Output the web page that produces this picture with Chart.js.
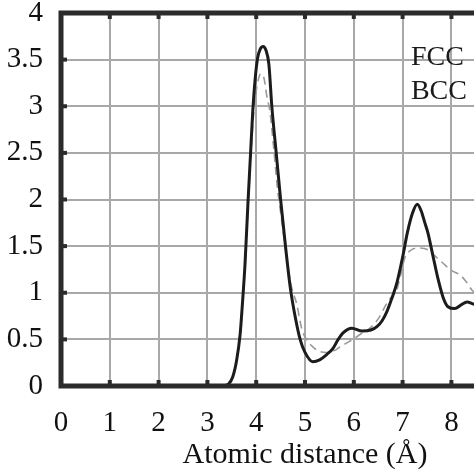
<!DOCTYPE html>
<html>
<head>
<meta charset="utf-8">
<script src="https://cdn.jsdelivr.net/npm/chart.js@4.4.1/dist/chart.umd.min.js"></script>
<style>
  html, body { margin: 0; padding: 0; background: #fff; overflow: hidden; }
  #wrap { width: 580px; height: 474px; }
</style>
</head>
<body>
<div id="wrap"><canvas id="rdfChart"></canvas></div>
<script>
// --- Data ---
const fccX = [3.3, 3.43, 3.52, 3.6, 3.67, 3.72, 3.77, 3.83, 3.88, 3.93, 3.98, 4.03, 4.08, 4.14, 4.2, 4.26, 4.32, 4.41, 4.5, 4.6, 4.7, 4.8, 4.9, 5.0, 5.16, 5.3, 5.45, 5.57, 5.68, 5.78, 5.96, 6.17, 6.35, 6.48, 6.58, 6.68, 6.78, 6.88, 7.0, 7.1, 7.2, 7.3, 7.38, 7.45, 7.52, 7.62, 7.73, 7.83, 7.93, 8.07, 8.2, 8.32, 8.44, 8.6, 8.8];
const fccY = [0, 0.02, 0.1, 0.28, 0.55, 0.9, 1.3, 1.95, 2.45, 2.95, 3.3, 3.52, 3.61, 3.64, 3.6, 3.45, 3.0, 2.5, 2.0, 1.5, 1.05, 0.74, 0.5, 0.36, 0.26, 0.28, 0.34, 0.4, 0.5, 0.57, 0.62, 0.59, 0.6, 0.64, 0.7, 0.8, 0.94, 1.1, 1.38, 1.65, 1.85, 1.95, 1.88, 1.76, 1.64, 1.4, 1.14, 0.95, 0.85, 0.83, 0.87, 0.9, 0.88, 0.85, 0.82];

const bccX = [3.3, 3.43, 3.52, 3.6, 3.67, 3.72, 3.77, 3.83, 3.88, 3.93, 3.98, 4.04, 4.1, 4.16, 4.22, 4.28, 4.35, 4.44, 4.53, 4.63, 4.73, 4.83, 4.93, 5.03, 5.16, 5.3, 5.45, 5.6, 5.72, 5.85, 5.98, 6.15, 6.33, 6.5, 6.68, 6.78, 6.88, 6.95, 7.05, 7.15, 7.3, 7.52, 7.65, 7.8, 8.0, 8.18, 8.3, 8.42, 8.6, 8.8];
const bccY = [0, 0.02, 0.1, 0.28, 0.55, 0.9, 1.28, 1.9, 2.38, 2.8, 3.08, 3.28, 3.35, 3.3, 3.1, 2.95, 2.6, 2.1, 1.75, 1.35, 1.05, 0.88, 0.62, 0.5, 0.42, 0.37, 0.36, 0.38, 0.42, 0.46, 0.5, 0.56, 0.62, 0.72, 0.89, 0.96, 1.03, 1.17, 1.38, 1.45, 1.48, 1.46, 1.4, 1.33, 1.24, 1.19, 1.12, 1.03, 0.95, 0.9];

const seriesNames = ['FCC', 'BCC'];
const xTicks = [0, 1, 2, 3, 4, 5, 6, 7, 8, 9, 10];
const yTicks = [0, 0.5, 1, 1.5, 2, 2.5, 3, 3.5, 4];

const serif = '"Liberation Serif", "DejaVu Serif", serif';
const toPoints = (xs, ys) => xs.map((x, i) => ({ x: x, y: ys[i] }));

// --- Frame, tick nubs + legend drawn on top of the chart area ---
const framePlugin = {
  id: 'frame',
  afterDraw(chart) {
    const { ctx, chartArea: a } = chart;
    ctx.save();
    ctx.strokeStyle = '#2b2b2b';
    ctx.lineWidth = 5;
    ctx.strokeRect(a.left, a.top, a.right - a.left, a.bottom - a.top);

    // small dark nubs where grid lines meet the frame
    ctx.fillStyle = '#2b2b2b';
    chart.scales.x.ticks.forEach(t => {
      const px = chart.scales.x.getPixelForValue(t.value);
      ctx.fillRect(px - 2, a.top, 4, 6);
      ctx.fillRect(px - 2, a.bottom - 6, 4, 6);
    });
    chart.scales.y.ticks.forEach(t => {
      const py = chart.scales.y.getPixelForValue(t.value);
      ctx.fillRect(a.left, py - 2, 6, 4);
    });

    // legend: text first, line sample to its right (falls outside the crop)
    ctx.font = '28px ' + serif;
    ctx.fillStyle = '#1a1a1a';
    ctx.textBaseline = 'alphabetic';
    const tx = chart.scales.x.getPixelForValue(7.17);
    const rows = [a.top + 52, a.top + 86];
    chart.data.datasets.forEach((ds, i) => {
      ctx.fillText(ds.label, tx, rows[i]);
      const w = ctx.measureText(ds.label).width;
      ctx.beginPath();
      ctx.strokeStyle = ds.borderColor;
      ctx.lineWidth = ds.borderWidth;
      ctx.setLineDash(ds.borderDash || []);
      ctx.moveTo(tx + w + 16, rows[i] - 9);
      ctx.lineTo(tx + w + 66, rows[i] - 9);
      ctx.stroke();
      ctx.setLineDash([]);
    });
    ctx.restore();
  }
};

new Chart(document.getElementById('rdfChart'), {
  type: 'scatter',
  data: {
    datasets: [{
      label: seriesNames[0],
      data: toPoints(fccX, fccY),
      showLine: true,
      borderColor: '#1c1c1c',
      borderWidth: 3,
      pointRadius: 0,
      cubicInterpolationMode: 'monotone'
    }, {
      label: seriesNames[1],
      data: toPoints(bccX, bccY),
      showLine: true,
      borderColor: '#9a9a9a',
      borderWidth: 1.6,
      borderDash: [8, 5],
      pointRadius: 0,
      cubicInterpolationMode: 'monotone'
    }]
  },
  options: {
    responsive: true,
    maintainAspectRatio: false,
    animation: false,
    layout: { padding: { top: 13, right: 31, bottom: 1, left: 0 } },
    plugins: { legend: { display: false }, tooltip: { enabled: false } },
    scales: {
      x: {
        type: 'linear',
        min: 0, max: 10,
        afterBuildTicks: (s) => { s.ticks = xTicks.map(v => ({ value: v })); },
        afterFit: (s) => { s.height = 87; s.paddingLeft = 0; s.paddingRight = 0; },
        grid: { color: '#a8a8a8', lineWidth: 2, drawTicks: false },
        border: { display: false },
        ticks: { color: '#111', padding: 20, font: { family: serif, size: 29 }, callback: (v) => String(v) },
        title: {
          display: true,
          text: 'Atomic distance (Å)',
          color: '#111',
          padding: 0,
          font: { family: serif, size: 30 }
        }
      },
      y: {
        min: 0, max: 4,
        afterBuildTicks: (s) => { s.ticks = yTicks.map(v => ({ value: v })); },
        afterFit: (s) => { s.width = 61; s.paddingTop = 0; s.paddingBottom = 0; },
        grid: { color: '#a8a8a8', lineWidth: 2, drawTicks: false },
        border: { display: false },
        ticks: { color: '#111', padding: 18, font: { family: serif, size: 29 }, callback: (v) => String(v) }
      }
    }
  },
  plugins: [framePlugin]
});
</script>
</body>
</html>
